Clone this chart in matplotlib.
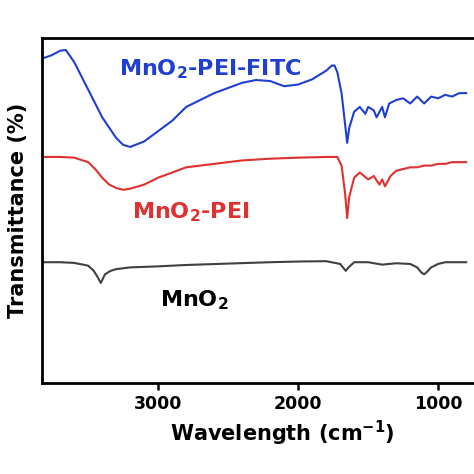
import matplotlib
matplotlib.use("Agg")
import matplotlib.pyplot as plt

plt.rcParams["mathtext.default"] = "bf"

# wavenumber (cm-1) and transmittance (arb. units)
fitc_x = [3830, 3760, 3700, 3660, 3600, 3500, 3400, 3300, 3250, 3200, 3100, 3000, 2900, 2800, 2600,
          2400, 2300, 2200, 2100, 2000, 1900, 1800, 1760, 1740, 1720, 1690, 1665, 1650, 1635, 1600,
          1560, 1520, 1500, 1460, 1440, 1400, 1380, 1350, 1300, 1250, 1200, 1150, 1100, 1050, 1000, 950, 900, 850, 800]
fitc_y = [94, 95, 96.3, 96.5, 93, 85, 77, 71, 69, 68.4, 70, 73, 76, 80, 84,
          87, 87.8, 87.5, 86, 86.5, 88, 90.5, 92, 92, 90, 84, 75, 69.6, 74, 78.6,
          80, 78, 80, 79, 77, 80, 77, 81, 82, 82.5, 81, 83, 81, 83, 82.5, 83.5, 83, 84, 84]
pei_x = [3830, 3700, 3600, 3500, 3450, 3400, 3350, 3300, 3250, 3200, 3100, 3000, 2900, 2800, 2600,
         2400, 2200, 2000, 1800, 1720, 1690, 1665, 1650, 1635, 1600, 1560, 1500, 1460, 1420, 1400,
         1380, 1340, 1300, 1250, 1200, 1150, 1100, 1050, 1000, 950, 900, 800]
pei_y = [65.5, 65.5, 65.3, 64, 62, 59.5, 57.5, 56.5, 56, 56.3, 57.5, 59.5, 61, 62.5, 63.5,
         64.5, 65, 65.3, 65.5, 65.5, 63, 55, 47.8, 54, 59.5, 61, 59, 60, 57.5, 59,
         57, 60, 61.5, 62, 62.5, 62.5, 63, 63, 63.5, 63.5, 64, 64]
mno2_x = [3830, 3700, 3600, 3500, 3460, 3430, 3410, 3380, 3340, 3300, 3200, 3000, 2800, 2500,
          2200, 2000, 1800, 1700, 1660, 1640, 1600, 1500, 1400, 1300, 1200, 1150, 1120, 1100,
          1080, 1050, 1000, 950, 900, 800]
mno2_y = [35, 35, 34.8, 34, 32.5, 30.5, 29, 31.5, 32.5, 33, 33.5, 33.8, 34.2, 34.6,
          35, 35.2, 35.3, 34.5, 32.5, 33.5, 35, 35, 34.3, 34.7, 34.5, 33.5, 32, 31.5,
          32.2, 33.5, 34.5, 35, 35, 35]

fig = plt.figure(figsize=(4.74, 4.74), dpi=100)
ax = fig.add_axes([0.0886, 0.192, 1.013, 0.728])
ax.plot(fitc_x, fitc_y, color="#1f3fd0", lw=1.5)
ax.plot(pei_x, pei_y, color="#e03030", lw=1.5)
ax.plot(mno2_x, mno2_y, color="#404040", lw=1.5)
ax.set_xlim(3830, 400)
ax.set_ylim(0, 100)
ax.set_yticks([])
ax.set_xticks([3000, 2000, 1000])
ax.tick_params(axis="x", labelsize=12.5, width=1.8, length=5)
for t in ax.get_xticklabels():
    t.set_fontweight("bold")
for s in ax.spines.values():
    s.set_linewidth(2)

ax.text(2630, 91, "MnO$_2$-PEI-FITC", color="#1f3fd0", fontsize=16, fontweight="bold", ha="center", va="center")
ax.text(2770, 49.5, "MnO$_2$-PEI", color="#e03030", fontsize=16, fontweight="bold", ha="center", va="center")
ax.text(2740, 24, "MnO$_2$", color="black", fontsize=16, fontweight="bold", ha="center", va="center")

ax.set_xlabel("Wavelength (cm$^{-1}$)", fontsize=15, fontweight="bold", labelpad=4)
ax.set_ylabel("Transmittance (%)", fontsize=15, fontweight="bold", labelpad=10)
fig.savefig("out.png", dpi=100)
